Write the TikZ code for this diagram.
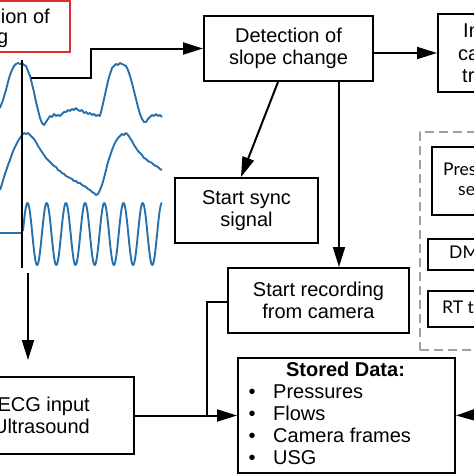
\documentclass[tikz,border=0pt]{standalone}
\usepackage{fontspec}
\setmainfont{Liberation Sans}
\newfontfamily\latof{Lato}
\usetikzlibrary{arrows.meta}
\definecolor{sigblue}{RGB}{40,112,172}
\definecolor{boxred}{RGB}{225,45,45}
\definecolor{dashgray}{RGB}{160,160,160}
\begin{document}
\begin{tikzpicture}[x=1pt,y=-1pt,
  box/.style={draw, line width=2pt, inner sep=0pt, align=center, font=\fontsize{20}{22}\selectfont, execute at begin node={\rule{0pt}{18.5pt}}},
  plainbox/.style={draw, line width=2pt, inner sep=0pt},
  txt/.style={inner sep=0pt, font=\fontsize{20}{22}\selectfont},
  smalltxt/.style={inner sep=0pt, font=\latof\fontsize{17.5}{20}\selectfont},
  conn/.style={line width=2pt},
  arr/.style={conn, -{Triangle[length=20pt,width=12pt]}},
  sig/.style={sigblue, line width=1.9pt, line join=round},
  panel/.style={draw=dashgray, line width=2pt, dash pattern=on 9pt off 5pt, inner sep=0pt},
]
\useasboundingbox (0,0) rectangle (474,474);
\clip (0,0) rectangle (474,474);

% signals
\begin{scope}[sig]
\draw (0,233) -- (22,233);
\draw plot[domain=23:162, samples=300, smooth] (\x, {234-31*cos(18.75*(\x-27.5))});
\draw plot coordinates {(0,108) (3,100) (6,90) (8,82) (10,75) (12,70) (14,66) (16,64) (18,63) (20,64) (22,63) (24,65) (26,66) (28,71) (30,76) (32,84) (34,92) (36,102) (38,110) (40,118) (42,123) (44,125) (46,122) (48,119) (50,116) (52,117) (54,114) (56,116) (58,115) (60,116) (62,114) (64,112) (66,112) (68,110) (70,111) (72,109) (74,110) (76,108) (78,110) (80,111) (82,110) (84,113) (86,112) (88,114) (90,113) (92,115) (94,114) (96,116) (98,115) (100,116) (102,108) (104,99) (106,90) (108,81) (110,74) (112,68) (114,66) (116,64) (118,65) (120,63) (122,64) (124,65) (126,66) (128,70) (130,76) (132,83) (134,91) (136,99) (138,107) (140,114) (142,119) (144,122) (146,122) (148,119) (150,117) (152,115) (154,116) (156,114) (158,116) (160,115) (162,117)};
\draw plot coordinates {(0,190) (2,184) (4,177) (6,171) (8,165) (10,160) (12,154) (14,149) (16,145) (18,141) (20,138) (22,135) (24,133) (26,134) (28,133) (30,135) (32,137) (34,139) (36,142) (38,146) (40,149) (42,152) (44,155) (46,158) (48,160) (50,162) (52,164) (54,166) (56,167) (58,170) (60,171) (62,173) (64,174) (66,176) (68,177) (70,178) (72,179) (74,181) (76,181) (78,183) (80,183) (82,185) (84,186) (86,187) (88,189) (90,190) (92,192) (94,193) (96,195) (98,194) (100,190) (102,185) (104,178) (106,170) (108,162) (110,156) (112,150) (114,145) (116,141) (118,138) (120,136) (122,134) (124,135) (126,133) (128,135) (130,138) (132,141) (134,145) (136,148) (138,151) (140,153) (142,155) (144,158) (146,159) (148,161) (150,162) (152,163) (154,165) (156,166) (158,167) (160,169) (162,170)};
\end{scope}
\coordinate (vt) at (22,60);
\coordinate (vb) at (22,268);
\draw[conn] (vt) -- (vb);

% red box
\node[draw=boxred, line width=2pt, minimum width=85pt, minimum height=51pt, inner sep=0pt] (selbox) at (27.5,26.5) {};
\node[txt, anchor=base east] (sel1) at (50,23) {ion of};
\node[txt, anchor=base west] (sel2) at (-3,43) {g};

% main boxes
\node[box, minimum width=169pt, minimum height=65pt] (det) at (288.5,48.5) {Detection of\\slope change};
\node[plainbox, minimum width=80pt, minimum height=78pt, anchor=north west] (trig) at (437,13) {};
\node[txt, anchor=base west] (trig1) at (463,37) {In};
\node[txt, anchor=base west] (trig2) at (458,60) {ca};
\node[txt, anchor=base west] (trig3) at (462,82) {tr};
\node[box, minimum width=143pt, minimum height=65pt] (sync) at (246.5,210.5) {Start sync\\signal};
\node[box, minimum width=181pt, minimum height=65pt] (rec) at (318.5,300.5) {Start recording\\from camera};
\node[plainbox, minimum width=175pt, minimum height=77pt, anchor=north east] (ecg) at (135,376) {};
\node[txt, anchor=base east] (ecg1) at (90,411) {ECG input};
\node[txt, anchor=base east] (ecg2) at (90,433) {Ultrasound};
\node[plainbox, minimum width=217pt, minimum height=115pt, anchor=north west] (stored) at (237,357) {};
\node[txt, anchor=base, font=\fontsize{20}{22}\selectfont\bfseries] (sthead) at (345.5,376) {Stored Data:};
\foreach \t [count=\i] in {Pressures,Flows,Camera frames,USG} {
  \node[txt, anchor=base] (b\i) at (252,{376+22*\i}) {\textbullet};
  \node[txt, anchor=base west] (s\i) at (273,{376+22*\i}) {\t};
}

% dashed panel
\node[panel, minimum width=80pt, minimum height=218pt, anchor=north west] (pan) at (419,131) {};
\node[plainbox, minimum width=80pt, minimum height=68pt, anchor=north west] (press) at (431,146) {};
\node[plainbox, minimum width=80pt, minimum height=31pt, anchor=north west] (dm) at (427,238) {};
\node[plainbox, minimum width=80pt, minimum height=36pt, anchor=north west] (rt) at (427,290) {};
\node[smalltxt, anchor=base west] (press1) at (443,175) {Pres};
\node[smalltxt, anchor=base west] (press2) at (458,195) {se};
\node[smalltxt, anchor=base west] (dm1) at (449,258) {DM};
\node[smalltxt, anchor=base west] (rt1) at (442,313) {RT t};

% connectors
\coordinate (sigout) at (31,78);
\coordinate (bend) at (91,78);
\draw[arr] (sigout) -- (bend) |- (det.west);
\draw[arr] (det.east |- trig.west) -- (trig.west);
\draw[arr] ([xshift=-10.5pt]det.south) -- ([xshift=-5.5pt]sync.north);
\draw[arr] ([xshift=50.5pt]det.south) -- ([xshift=20.5pt]rec.north);
\coordinate (dstart) at (28,273);
\coordinate (dend) at (28,360);
\draw[arr] (dstart) -- (dend);
\coordinate (join) at (207,414.5);
\draw[conn] ([yshift=-1.5pt]rec.west) -| (join);
\draw[arr] (ecg.east) -- (stored.west);
\coordinate (rin) at (485,414.5);
\draw[arr] (rin) -- (stored.east);
\end{tikzpicture}
\end{document}
